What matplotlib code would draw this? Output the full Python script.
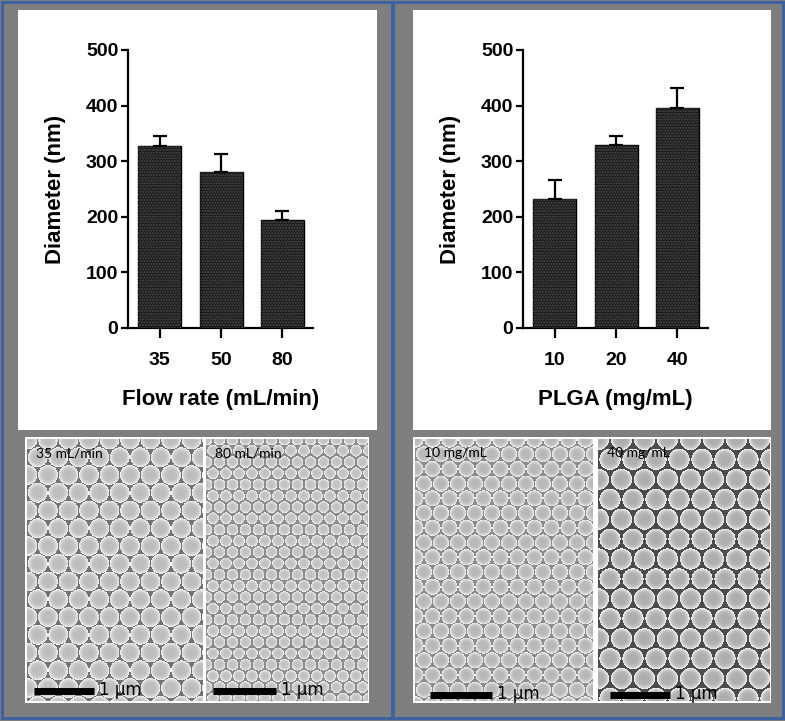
#!/usr/bin/env python3
"""粒径柱状图 + SEM 示意面板，输出 out.png。"""

import numpy as np
import matplotlib.pyplot as plt
from matplotlib.patches import Rectangle

W, H = 785, 721

# 左图：流速
flow_labels = ["35", "50", "80"]
flow_diam = [327, 280, 194]
flow_err = [18, 33, 17]

# 右图：PLGA 浓度
plga_labels = ["10", "20", "40"]
plga_diam = [232, 329, 395]
plga_err = [34, 16, 36]

y_ticks = [0, 100, 200, 300, 400, 500]

GRAY = "#7f7f7f"
BLUE = "#3f62a0"
BAR = "#1c1c1c"

plt.rcParams["font.family"] = ["Liberation Sans", "DejaVu Sans"]


def px_rect(x0, y0, x1, y1):
    """像素坐标（左上为原点）转 figure 坐标。"""
    return [x0 / W, 1 - y1 / H, (x1 - x0) / W, (y1 - y0) / H]


def sem_texture(w, h, d, gap=0.5, fill=0.74, rim=0.96, size=0.97):
    """六方密堆的小球纹理，只作为 SEM 照片的示意。"""
    yy, xx = np.mgrid[0:h, 0:w].astype(float)
    dy = d * np.sqrt(3)
    ax_ = np.mod(xx, d) - d / 2
    ay_ = np.mod(yy, dy) - dy / 2
    bx_ = np.mod(xx + d / 2, d) - d / 2
    by_ = np.mod(yy + dy / 2, dy) - dy / 2
    r = np.minimum(np.hypot(ax_, ay_), np.hypot(bx_, by_)) / (d / 2)
    img = np.where(r < size, fill + (rim - fill) * (r / size) ** 4, gap)
    return img


fig = plt.figure(figsize=(W / 100, H / 100), dpi=100)
fig.patch.set_facecolor(GRAY)

bg = fig.add_axes([0, 0, 1, 1])
bg.set_xlim(0, W)
bg.set_ylim(H, 0)
bg.axis("off")
# 蓝色外框
for x0, x1 in [(2, 392), (393, 783)]:
    bg.add_patch(Rectangle((x0, 2), x1 - x0, 716, fill=False, edgecolor=BLUE, linewidth=2.2))
# 白色图表区
bg.add_patch(Rectangle((18, 10), 359, 420, facecolor="white", edgecolor="none"))
bg.add_patch(Rectangle((413, 10), 358, 420, facecolor="white", edgecolor="none"))
# SEM 白边
bg.add_patch(Rectangle((25, 437), 344, 266, facecolor="white", edgecolor="none"))
bg.add_patch(Rectangle((413, 437), 358, 266, facecolor="white", edgecolor="none"))


def bar_panel(rect, labels, values, errs, xlabel):
    ax = fig.add_axes(px_rect(*rect))
    x = np.arange(len(labels))
    ax.bar(x, values, width=0.7, color=BAR, edgecolor="black", linewidth=1.0, zorder=2)
    ax.bar(x, values, width=0.7, fill=False, hatch="......", edgecolor="#4a4a4a",
           linewidth=0, zorder=3)
    ax.errorbar(x, values, yerr=[np.zeros(len(errs)), errs], fmt="none", ecolor="black",
                elinewidth=1.6, capsize=5, capthick=1.6, zorder=4)
    ax.set_xlim(-0.52, 2.5)
    ax.set_ylim(0, 500)
    ax.set_yticks(y_ticks)
    ax.set_xticks(x)
    ax.set_xticklabels(labels)
    for side in ["top", "right"]:
        ax.spines[side].set_visible(False)
    for side in ["left", "bottom"]:
        ax.spines[side].set_linewidth(1.6)
    ax.tick_params(axis="y", length=5, width=1.6, labelsize=14, pad=2)
    ax.tick_params(axis="x", length=7, width=1.6, labelsize=14, pad=10)
    for t in ax.get_xticklabels() + ax.get_yticklabels():
        t.set_fontweight("bold")
    ax.set_ylabel("Diameter (nm)", fontsize=16, fontweight="bold", labelpad=14)
    ax.set_xlabel(xlabel, fontsize=16, fontweight="bold", labelpad=15)
    ax.set_facecolor("none")
    return ax


bar_panel((128, 50, 313, 328), flow_labels, flow_diam, flow_err, "Flow rate (mL/min)")
bar_panel((523, 50, 708, 328), plga_labels, plga_diam, plga_err, "PLGA (mg/mL)")


def sem_panel(x0, x1, y0, y1, d, label, bar_x0, bar_x1, bar_y, **kw):
    ax = fig.add_axes(px_rect(x0, y0, x1, y1))
    img = sem_texture(x1 - x0, y1 - y0, d, **kw)
    ax.imshow(img, cmap="gray", vmin=0, vmax=1, aspect="auto", interpolation="bilinear",
              extent=(x0, x1, y1, y0))
    ax.set_xlim(x0, x1)
    ax.set_ylim(y1, y0)
    ax.axis("off")
    ax.text(x0 + 9, y0 + 14, label, fontsize=10, family=["Lato", "DejaVu Sans"],
            color="black", va="center", ha="left")
    ax.plot([bar_x0, bar_x1], [bar_y, bar_y], color="black", linewidth=5, solid_capstyle="butt")
    ax.text(bar_x1 + 5, bar_y - 1, "1 \u00b5m", fontsize=12, family=["DejaVu Sans"],
            color="black", va="center", ha="left")


sem_panel(27, 203, 439, 701, 20.5, "35 mL/min", 34, 94, 691, gap=0.45)
sem_panel(206, 368, 439, 701, 13, "80 mL/min", 213, 276, 691, gap=0.55, fill=0.76, size=0.9)
sem_panel(415, 593, 439, 701, 17, "10 mg/mL", 430, 492, 695, gap=0.55, fill=0.72, size=0.95)
sem_panel(598, 770, 439, 701, 23, "40 mg/mL", 610, 670, 695, gap=0.3, fill=0.68, size=0.92)

fig.savefig("out.png", dpi=100, facecolor=GRAY)
